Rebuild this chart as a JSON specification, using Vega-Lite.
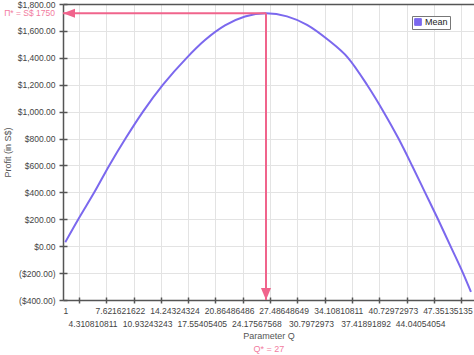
{
  "$schema": "https://vega.github.io/schema/vega-lite/v6.json",
  "width": 411,
  "height": 296,
  "autosize": "none",
  "padding": {"left": 63, "top": 4, "right": 0, "bottom": 55},
  "background": "#ffffff",
  "config": {
    "font": "Liberation Sans",
    "view": {"stroke": null},
    "axis": {"labelFont": "Liberation Sans", "titleFont": "Liberation Sans"}
  },
  "datasets": {
    "curve": [
      {"Q": 2.66, "Profit": 30},
      {"Q": 4.235, "Profit": 200},
      {"Q": 6.175, "Profit": 400},
      {"Q": 7.99, "Profit": 600},
      {"Q": 9.959, "Profit": 800},
      {"Q": 12.082, "Profit": 1000},
      {"Q": 14.508, "Profit": 1200},
      {"Q": 17.382, "Profit": 1400},
      {"Q": 19.602, "Profit": 1532},
      {"Q": 22.027, "Profit": 1641},
      {"Q": 24.453, "Profit": 1707},
      {"Q": 27, "Profit": 1731},
      {"Q": 29.547, "Profit": 1708},
      {"Q": 31.973, "Profit": 1645},
      {"Q": 34.556, "Profit": 1532},
      {"Q": 36.946, "Profit": 1400},
      {"Q": 39.25, "Profit": 1200},
      {"Q": 41.25, "Profit": 1000},
      {"Q": 43.07, "Profit": 800},
      {"Q": 44.707, "Profit": 600},
      {"Q": 46.284, "Profit": 400},
      {"Q": 47.861, "Profit": 200},
      {"Q": 49.378, "Profit": 0},
      {"Q": 50.893, "Profit": -200},
      {"Q": 51.864, "Profit": -340}
    ],
    "guides": [
      {"x": 2.379, "x2": 27, "y": 1731, "y2": 1731},
      {"x": 27, "x2": 27, "y": 1731, "y2": -400}
    ],
    "leftArrow": [{"Q": 2.379, "Profit": 1731, "label": "Π* = S$ 1750"}],
    "downArrow": [{"Q": 27, "Profit": -400}]
  },
  "resolve": {"axis": {"x": "independent", "y": "independent"}},
  "layer": [
    {
      "data": {"name": "curve"},
      "mark": {"type": "line", "interpolate": "monotone", "strokeWidth": 2},
      "encoding": {
        "x": {
          "field": "Q", "type": "quantitative",
          "scale": {"domain": [2.379, 52.227], "nice": false, "zero": false},
          "axis": {
            "orient": "bottom",
            "values": [4.3108108, 7.6216216, 10.9324324, 14.2432432, 17.5540541, 20.8648649, 24.1756757, 27.4864865, 30.7972973, 34.1081081, 37.4189189, 40.7297297, 44.0405405, 47.3513514, 50.6621622],
            "labels": false,
            "ticks": true, "tickSize": 3, "tickColor": "#555", "tickWidth": 1.5,
            "grid": true, "gridColor": "#e3e3e3", "gridWidth": 1,
            "domain": true, "domainColor": "#555", "domainWidth": 1.5,
            "title": "Q* = 27", "titleColor": "#f27ca0", "titleFontWeight": "normal", "titleFontSize": 9, "titlePadding": 41
          }
        },
        "y": {
          "field": "Profit", "type": "quantitative",
          "scale": {"domain": [-400, 1800], "nice": false, "zero": false},
          "axis": {
            "orient": "left",
            "values": [-400, -200, 0, 200, 400, 600, 800, 1000, 1200, 1400, 1600, 1800],
            "labelExpr": "datum.value < 0 ? '($' + format(-datum.value, ',.2f') + ')' : '$' + format(datum.value, ',.2f')",
            "labelFontSize": 8.5, "labelColor": "#444", "labelPadding": 4,
            "ticks": true, "tickSize": 4, "tickColor": "#555", "tickWidth": 1.5,
            "grid": true, "gridColor": "#e3e3e3", "gridWidth": 1,
            "domain": true, "domainColor": "#555", "domainWidth": 1.5,
            "title": "Profit (in S$)", "titleFontSize": 9, "titleFontWeight": "normal", "titleColor": "#555", "titlePadding": 5
          }
        },
        "color": {
          "datum": "Mean",
          "scale": {"range": ["#7b68ee"]},
          "legend": {
            "orient": "none", "legendX": 349, "legendY": 12, "title": null,
            "symbolType": "square", "symbolFillColor": "#7b68ee", "symbolStrokeColor": "#3a3a3a", "symbolStrokeWidth": 1, "symbolSize": 45,
            "labelFontSize": 9, "labelColor": "#222", "labelOffset": 2.5,
            "strokeColor": "#777", "fillColor": "#ffffff", "padding": 1.5
          }
        }
      }
    },
    {
      "data": {"name": "guides"},
      "mark": {"type": "rule", "color": "#f0648c", "strokeWidth": 2},
      "encoding": {
        "x": {
          "field": "x", "type": "quantitative",
          "scale": {"domain": [2.379, 52.227], "nice": false, "zero": false},
          "axis": {
            "orient": "bottom",
            "values": [2.6554054, 5.9662162, 9.277027, 12.5878378, 15.8986486, 19.2094595, 22.5202703, 25.8310811, 29.1418919, 32.4527027, 35.7635135, 39.0743243, 42.3851351, 45.6959459, 49.0067568],
            "labelExpr": "round((datum.value-2.6554054)/3.3108108) % 2 == 0 ? ['1','4.310810811','7.621621622','10.93243243','14.24324324','17.55405405','20.86486486','24.17567568','27.48648649','30.7972973','34.10810811','37.41891892','40.72972973','44.04054054','47.35135135'][round((datum.value-2.6554054)/3.3108108)] : ['', ['1','4.310810811','7.621621622','10.93243243','14.24324324','17.55405405','20.86486486','24.17567568','27.48648649','30.7972973','34.10810811','37.41891892','40.72972973','44.04054054','47.35135135'][round((datum.value-2.6554054)/3.3108108)]]",
            "ticks": false, "grid": false, "domain": false,
            "labelFlush": false, "labelOverlap": false, "labelBound": false,
            "labelPadding": 6, "labelLineHeight": 13, "labelFontSize": 8.5, "labelColor": "#444",
            "title": "Parameter Q", "titleFontSize": 9, "titleFontWeight": "normal", "titleColor": "#555", "titlePadding": 4
          }
        },
        "x2": {"field": "x2"},
        "y": {
          "field": "y", "type": "quantitative",
          "scale": {"domain": [-400, 1800], "nice": false, "zero": false},
          "axis": null
        },
        "y2": {"field": "y2"}
      }
    },
    {
      "data": {"name": "leftArrow"},
      "mark": {"type": "point", "shape": "M0,0L1,-0.38L1,0.38Z", "size": 576, "filled": true, "color": "#f0648c", "opacity": 1, "strokeWidth": 0},
      "encoding": {
        "x": {
          "field": "Q", "type": "quantitative",
          "scale": {"domain": [2.379, 52.227], "nice": false, "zero": false},
          "axis": {
            "orient": "bottom",
            "values": [4.3108108, 7.6216216, 10.9324324, 14.2432432, 17.5540541, 20.8648649, 24.1756757, 27.4864865, 30.7972973, 34.1081081, 37.4189189, 40.7297297, 44.0405405, 47.3513514, 50.6621622],
            "labels": false, "grid": false, "domain": false, "title": null,
            "ticks": true, "tickSize": -3, "tickColor": "#555", "tickWidth": 1.5
          }
        },
        "y": {
          "field": "Profit", "type": "quantitative",
          "scale": {"domain": [-400, 1800], "nice": false, "zero": false},
          "axis": {
            "orient": "left",
            "values": [-400, -200, 0, 200, 400, 600, 800, 1000, 1200, 1400, 1600, 1800],
            "labels": false, "grid": false, "domain": false, "title": null,
            "ticks": true, "tickSize": -4, "tickColor": "#555", "tickWidth": 1.5
          }
        }
      }
    },
    {
      "data": {"name": "leftArrow"},
      "mark": {"type": "text", "align": "right", "baseline": "middle", "dx": -8, "fontSize": 8.5, "color": "#f27ca0"},
      "encoding": {
        "x": {"field": "Q", "type": "quantitative", "scale": {"domain": [2.379, 52.227], "nice": false, "zero": false}, "axis": null},
        "y": {"field": "Profit", "type": "quantitative", "scale": {"domain": [-400, 1800], "nice": false, "zero": false}, "axis": null},
        "text": {"field": "label"}
      }
    },
    {
      "data": {"name": "downArrow"},
      "mark": {"type": "point", "shape": "M0,0L-0.42,-1L0.42,-1Z", "size": 576, "filled": true, "color": "#f0648c", "opacity": 1, "strokeWidth": 0},
      "encoding": {
        "x": {
          "field": "Q", "type": "quantitative",
          "scale": {"domain": [2.379, 52.227], "nice": false, "zero": false},
          "axis": {"orient": "top", "labels": false, "ticks": false, "grid": false, "domain": true, "domainColor": "#555", "domainWidth": 1.5, "title": null}
        },
        "y": {"field": "Profit", "type": "quantitative", "scale": {"domain": [-400, 1800], "nice": false, "zero": false}, "axis": null}
      }
    }
  ]
}
